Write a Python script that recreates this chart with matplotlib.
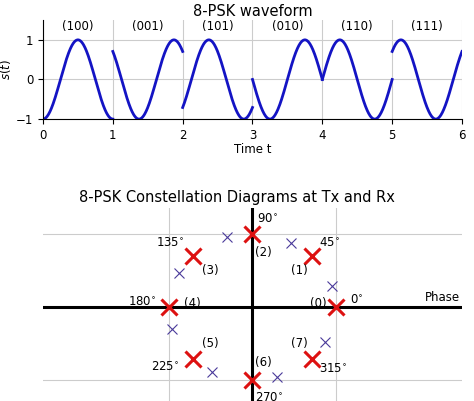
import numpy as np
import matplotlib
matplotlib.use("Agg")
import matplotlib.pyplot as plt

bits = ["100", "001", "101", "010", "110", "111"]
tx_deg = [0, 45, 90, 135, 180, 225, 270, 315]
rx_x = [0.95, 0.46, -0.30, -0.88, -0.96, -0.48, 0.29, 0.87]
rx_y = [0.29, 0.88, 0.96, 0.47, -0.30, -0.89, -0.96, -0.47]
# text offsets (pixels) for angle / index labels
ang_off = [(20, 7), (18, 12), (15, 15), (-23, 12), (-27, 5), (-28, -8), (17, -18), (21, -10)]
idx_off = [(-18, 4), (-12, -15), (11, -18), (17, -15), (24, 4), (17, 15), (11, 18), (-12, 15)]

fs = 8.5
fig = plt.figure(figsize=(4.74, 4.01), dpi=100)
ax1 = fig.add_axes([0.0907, 0.703, 0.884, 0.247])
for k, b in enumerate(bits):
    phi = int(b, 2) * np.pi / 4
    t = np.linspace(k, k + 1, 200)
    ax1.plot(t, np.cos(2 * np.pi * (t - k) + phi), color="#1414c4", lw=2)
    ax1.text(k + 0.5, 1.33, f"({b})", ha="center", va="center", fontsize=fs)
ax1.set_xlim(0, 6)
ax1.set_ylim(-1, 1.5)
ax1.set_yticks([-1, 0, 1])
ax1.set_xticks(range(7))
ax1.grid(True, color="#cccccc", lw=0.8)
for s in ["top", "right"]:
    ax1.spines[s].set_visible(False)
ax1.tick_params(labelsize=fs)
ax1.set_xlabel("Time t", fontsize=fs, labelpad=1)
ax1.set_ylabel("$s(t)$", fontsize=fs, labelpad=2)
ax1.set_title("8-PSK waveform", fontsize=10.5, pad=3)

ax2 = fig.add_axes([0.0907, -0.014, 0.884, 0.495])
ax2.set_xlim(-2.5, 2.5)
ax2.set_ylim(-1.36, 1.36)
for v in [-1, 1]:
    ax2.axhline(v, color="#cccccc", lw=0.8)
    ax2.axvline(v, color="#cccccc", lw=0.8)
ax2.axhline(0, color="black", lw=2.2)
ax2.axvline(0, color="black", lw=2.2)
for s in ax2.spines.values():
    s.set_visible(False)
ax2.set_xticks([]); ax2.set_yticks([])
px = 0.72
for i, d in enumerate(tx_deg):
    x, y = np.cos(np.radians(d)), np.sin(np.radians(d))
    ax2.plot(x, y, marker="x", color="#dd1111", ms=12, mew=2.2)
    ax2.annotate(f"{d}$^{{\\circ}}$", (x, y), xytext=(ang_off[i][0]*px, ang_off[i][1]*px),
                 textcoords="offset points", ha="center", va="center", fontsize=fs)
    ax2.annotate(f"({i})", (x, y), xytext=(idx_off[i][0]*px, idx_off[i][1]*px),
                 textcoords="offset points", ha="center", va="center", fontsize=fs)
ax2.plot(rx_x, rx_y, ls="none", marker="x", color="#4a3a9a", ms=7, mew=0.8)
ax2.text(2.48, 0.05, "Phase", ha="right", va="bottom", fontsize=fs)
fig.text(0.5, 0.508, "8-PSK Constellation Diagrams at Tx and Rx", ha="center", va="center", fontsize=10.5)

fig.savefig("out.png", dpi=100)
